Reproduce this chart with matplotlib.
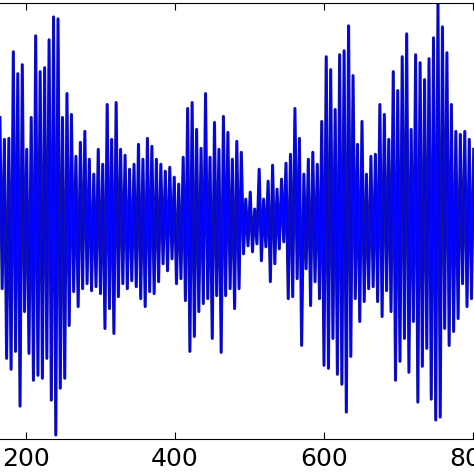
import numpy as np
import matplotlib
matplotlib.use("Agg")
from matplotlib import pyplot as plt
import matplotlib.patheffects as pe

# trace sampled every 3 units, alternating between a high and a low value
sample_x = np.arange(165, 802, 3)

upper = [104, 82, 83, 170, 148, 157, 72, 104, 186, 150,
         154, 182, 205, 203, 104, 128, 107, 65, 79, 90,
         62, 47, 72, 57, 117, 82, 119, 72, 66, 52,
         57, 77, 62, 83, 75, 62, 57, 50, 54, 44,
         37, 64, 113, 119, 92, 73, 128, 64, 99, 72,
         105, 89, 62, 80, 69, 22, 29, 12, 52, 22,
         40, 56, 32, 42, 58, 67, 113, 83, 47, 62,
         69, 57, 100, 165, 152, 112, 167, 171, 196, 146,
         77, 100, 47, 65, 67, 117, 107, 82, 150, 131,
         165, 188, 92, 167, 159, 142, 163, 184, 219, 195,
         169, 117, 90, 87, 90, 82, 72]

lower = [-68, -138, -149, -131, -186, -91, -133, -160, -155, -158,
         -138, -180, -215, -168, -158, -105, -71, -86, -68, -63,
         -70, -66, -73, -108, -88, -113, -76, -63, -68, -60,
         -66, -78, -86, -71, -73, -61, -43, -50, -38, -63,
         -58, -80, -131, -116, -91, -83, -78, -118, -75, -132,
         -75, -68, -88, -68, -33, -25, -31, -23, -40, -26,
         -61, -43, -28, -21, -78, -76, -58, -125, -48, -85,
         -61, -78, -145, -148, -118, -154, -164, -192, -136, -78,
         -101, -81, -68, -66, -81, -96, -70, -91, -160, -141,
         -118, -152, -101, -182, -146, -128, -179, -200, -197, -108,
         -125, -111, -98, -63, -86, -78]

xticks = [0, 200, 400, 600, 800, 1000]

signal = np.empty(len(upper) + len(lower))
signal[0::2] = upper
signal[1::2] = lower

fig = plt.figure(figsize=(4.74, 4.74), dpi=100)
# the picture is a crop of a wider axes, so the axes runs past the figure edges
ax = fig.add_axes([-0.2595, 0.0738, 1.5717, 0.92])

ax.plot(sample_x, signal, color="#0000ff", lw=1.25,
        path_effects=[pe.Stroke(linewidth=2.2, foreground="#1a1a86"), pe.Normal()])

ax.set_xlim(0, 1000)
ax.set_ylim(-219, 219)
ax.set_xticks(xticks)
ax.set_yticks([])
ax.tick_params(axis="x", direction="in", length=5, width=0.8, top=True,
               labelsize=18, pad=5.5)
for s in ax.spines.values():
    s.set_linewidth(0.8)

fig.savefig("out.png", dpi=100)
